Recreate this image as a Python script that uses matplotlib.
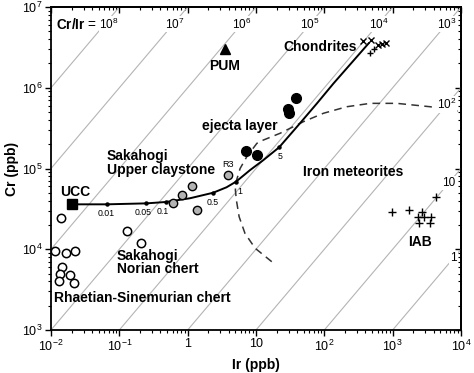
import matplotlib
matplotlib.use("Agg")
import matplotlib.pyplot as plt
import numpy as np

plt.rcParams['font.family'] = ['Liberation Sans', 'DejaVu Sans']
plt.rcParams['mathtext.fontset'] = 'custom'
plt.rcParams['mathtext.rm'] = 'Liberation Sans'
plt.rcParams['mathtext.bf'] = 'Liberation Sans:bold'
plt.rcParams['mathtext.default'] = 'regular'

# --- data (Ir, Cr in ppb) ---
ucc_ir, ucc_cr = [0.02], [36000]
pum_ir, pum_cr = [3.56], [3.0e6]

upper_ir = [0.62, 0.83, 1.17, 1.36, 3.9]
upper_cr = [37000, 47000, 60700, 30600, 83000]

ejecta_ir = [38.3, 29.5, 30.5, 7.1, 10.3]
ejecta_cr = [757000, 546000, 483000, 165000, 149000]

norian_ir = [0.130, 0.211]
norian_cr = [17000, 12000]

rhaetian_ir = [0.0138, 0.0116, 0.0168, 0.0224, 0.0145, 0.0134, 0.0188, 0.0132, 0.0219]
rhaetian_cr = [24600, 9600, 9000, 9600, 5970, 4980, 4840, 4020, 3860]

chond_x_ir = [366, 480, 614, 702, 803]
chond_x_cr = [3.83e6, 3.90e6, 3.34e6, 3.53e6, 3.61e6]
chond_p_ir = [469, 536]
chond_p_cr = [2.67e6, 2.99e6]

iab_ir = [993, 1745, 2730, 2340, 2920, 3660, 2440, 3540, 4330]
iab_cr = [28700, 30600, 28700, 25300, 24900, 24900, 20900, 20900, 44800]

# UCC - chondrite mixing line
mix_ir = [0.02, 0.065, 0.25, 0.48, 1.08, 2.36, 3.7, 5.1, 8.2, 12.8, 21.8, 44, 78, 136, 445]
mix_cr = [36000, 36000, 37000, 38500, 42800, 50100, 58500, 68700, 95700, 127000, 183000,
          363000, 641000, 1130000, 3550000]
mix_tick_ir = [0.065, 0.246, 0.478, 2.36, 5.1, 21.8]
mix_tick_cr = [36000, 37000, 38500, 50100, 68700, 183000]
mix_tick_lab = ['0.01', '0.05', '0.1', '0.5', '1', '5']
mix_tick_dx = [0, -2, -2, 0, 2.5, 1]

# dashed curve
dash_ir = [17.0, 9.7, 6.9, 5.66, 5.16, 4.99, 5.12, 5.85, 7.33, 10.3, 12.8, 22.5, 49.4, 97, 213,
           469, 1150, 3540, 10000]
dash_cr = [7010, 10300, 15700, 25300, 40700, 54200, 68700, 100000, 140000, 205000, 225000,
           273000, 380000, 483000, 582000, 641000, 641000, 582000, 505000]

ratio_exp = [0, 1, 2, 3, 4, 5, 6, 7, 8, 9]
top_lab_exp = [8, 7, 6, 5, 4, 3]
top_lab_dx = [3, 1, 0, 0, 0, 0]
right_lab_exp = [2, 1, 0]
right_lab_ir = [10**3.79, 10**3.82, 10**3.89]

fig = plt.figure(figsize=(4.74, 3.73), dpi=100)
ax = fig.add_axes([0.1076, 0.1153, 0.865, 0.8659])
ax.set_xscale('log')
ax.set_yscale('log')
ax.set_xlim(1e-2, 1e4)
ax.set_ylim(1e3, 1e7)

# constant Cr/Ir lines
xs = np.array([1e-2, 1e4])
for e in ratio_exp:
    ax.plot(xs, 10.0**e * xs, color='#b4b4b4', lw=0.8, zorder=1)

lab_box = dict(facecolor='white', edgecolor='none', pad=0.5)
top_cr = 10**6.79
for e, dx in zip(top_lab_exp, top_lab_dx):
    ax.annotate(r'$10^{%d}$' % e, (top_cr / 10.0**e, top_cr), xytext=(dx, 0),
                textcoords='offset points', fontsize=8.5, ha='center', va='center',
                bbox=lab_box, zorder=3)
ax.text(0.113, 0.947, r'$\mathbf{Cr/Ir}$ =', transform=ax.transAxes, fontsize=9.8,
        ha='right', va='center', zorder=3)
for e, xi in zip(right_lab_exp, right_lab_ir):
    lab = '1' if e == 0 else ('10' if e == 1 else r'$10^{%d}$' % e)
    ax.text(xi, xi * 10.0**e, lab, fontsize=8.5, ha='center', va='center', bbox=lab_box, zorder=3)

# curves
ax.plot(dash_ir, dash_cr, color='#333333', lw=1.1, ls=(0, (5, 3.5)), zorder=2)
ax.plot(mix_ir, mix_cr, color='black', lw=1.4, zorder=4)
ax.plot(mix_tick_ir, mix_tick_cr, 'o', color='black', ms=2.2, zorder=5)
for xi, yi, t, dx in zip(mix_tick_ir, mix_tick_cr, mix_tick_lab, mix_tick_dx):
    ax.annotate(t, (xi, yi), xytext=(dx, -3.5), textcoords='offset points', fontsize=6.3,
                ha='center', va='top', zorder=5)

# data points
ax.plot(rhaetian_ir, rhaetian_cr, 'o', mfc='white', mec='black', mew=1.1, ms=6, ls='none', zorder=6)
ax.plot(norian_ir, norian_cr, 'o', mfc='white', mec='black', mew=1.1, ms=6, ls='none', zorder=6)
ax.plot(upper_ir, upper_cr, 'o', mfc='#b3b3b3', mec='black', mew=1.0, ms=6, ls='none', zorder=6)
ax.plot(ejecta_ir, ejecta_cr, 'o', color='black', ms=7, ls='none', zorder=6)
ax.plot(ucc_ir, ucc_cr, 's', color='black', ms=6.5, ls='none', zorder=6)
ax.plot(pum_ir, pum_cr, '^', color='black', ms=7.5, ls='none', zorder=6)
ax.plot(chond_x_ir, chond_x_cr, 'x', color='black', ms=4.5, mew=1.0, ls='none', zorder=6)
ax.plot(chond_p_ir, chond_p_cr, '+', color='black', ms=5, mew=1.0, ls='none', zorder=6)
ax.plot(iab_ir, iab_cr, '+', color='black', ms=6, mew=1.0, ls='none', zorder=6)

# labels
bold = dict(fontsize=10, fontweight='bold', zorder=7)
ax.text(10**2.48, 10**6.505, 'Chondrites', ha='right', va='center', **bold)
ax.text(10**0.533, 10**6.269, 'PUM', ha='center', va='center', **bold)
ax.text(10**0.211, 10**5.526, 'ejecta layer', ha='left', va='center', **bold)
ax.text(10**-1.18, 10**5.068, 'Sakahogi\nUpper claystone', ha='left', va='center',
        linespacing=0.95, **bold)
ax.text(10**-1.868, 10**4.713, 'UCC', ha='left', va='center', **bold)
ax.text(10**1.685, 10**4.96, 'Iron meteorites', ha='left', va='center', **bold)
ax.text(10**3.395, 10**4.093, 'IAB', ha='center', va='center', **bold)
ax.text(10**-1.038, 10**3.833, 'Sakahogi\nNorian chert', ha='left', va='center',
        linespacing=0.95, **bold)
ax.text(10**-1.956, 10**3.393, 'Rhaetian-Sinemurian chert', ha='left', va='center', **bold)
ax.annotate('R3', (3.9, 83000), xytext=(0, 4.5), textcoords='offset points', fontsize=6.5,
            ha='center', va='bottom')

ax.set_xlabel('Ir (ppb)', fontsize=10, fontweight='bold', labelpad=3)
ax.set_ylabel('Cr (ppb)', fontsize=10, fontweight='bold', labelpad=2)

xt = [1e-2, 1e-1, 1, 10, 1e2, 1e3, 1e4]
xl = [r'$10^{-2}$', r'$10^{-1}$', '1', '10', r'$10^{2}$', r'$10^{3}$', r'$10^{4}$']
yt = [1e3, 1e4, 1e5, 1e6, 1e7]
yl = [r'$10^{3}$', r'$10^{4}$', r'$10^{5}$', r'$10^{6}$', r'$10^{7}$']
ax.set_xticks(xt, xl)
ax.set_yticks(yt, yl)
ax.tick_params(which='major', direction='out', length=4, width=1.0, labelsize=9, pad=2)
ax.tick_params(which='minor', direction='out', length=2.5, width=0.8)

top = ax.secondary_xaxis('top')
top.set_xticks(xt, [''] * len(xt))
top.tick_params(which='major', direction='in', length=4, width=1.0)
top.tick_params(which='minor', direction='in', length=2.5, width=0.8)
right = ax.secondary_yaxis('right')
right.set_yticks(yt, [''] * len(yt))
right.tick_params(which='major', direction='in', length=4, width=1.0)
right.tick_params(which='minor', direction='in', length=2.5, width=0.8)

for s in ax.spines.values():
    s.set_linewidth(1.3)
top.spines['top'].set_linewidth(1.3)
right.spines['right'].set_linewidth(1.3)

fig.savefig('out.png', dpi=100)
